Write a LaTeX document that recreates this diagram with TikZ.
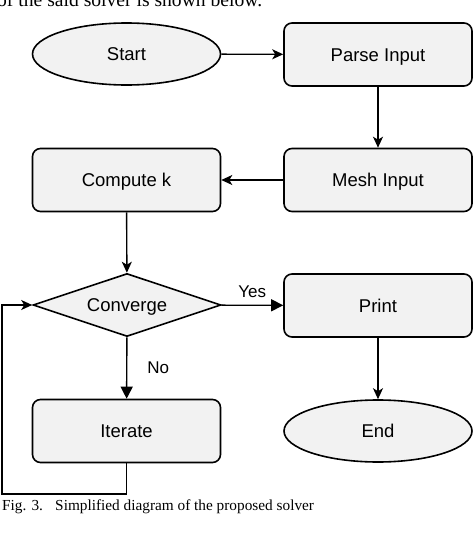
\documentclass[tikz,border=0pt]{standalone}
\usepackage{fontspec}
\setmainfont{Liberation Sans}
\newfontfamily\capfont{Liberation Serif}
\usetikzlibrary{shapes.geometric,arrows.meta}
\definecolor{boxfill}{HTML}{F2F2F2}
\tikzset{
  base/.style={draw=black, line width=1.6pt, fill=boxfill, font=\fontsize{18.5}{20}\selectfont, inner sep=0pt, text height=13.3pt, text depth=0pt},
  procbox/.style={base, rectangle, rounded corners=8pt, minimum width=188pt, minimum height=63pt},
  termbox/.style={base, ellipse, minimum width=188pt, minimum height=62pt},
  decbox/.style={base, diamond, shape aspect=3, minimum width=188pt, minimum height=63pt},
  conn/.style={line width=1.4pt, -{Stealth[length=11pt,width=10pt,inset=3pt]}},
  bconn/.style={line width=1.4pt, -{Triangle[length=12pt,width=12pt]}},
  lbl/.style={font=\fontsize{17}{19}\selectfont, inner sep=0pt},
  captxt/.style={font=\capfont\fontsize{15.3}{17}\selectfont, inner sep=0pt, anchor=base west}
}
\begin{document}
\begin{tikzpicture}[x=1pt,y=-1pt]
\useasboundingbox (0,0) rectangle (474,538);
\begin{scope}
\clip (0,0) rectangle (474,538);
\node[captxt, font=\capfont\fontsize{19.6}{21}\selectfont] (top) at (-3,6) {of the said solver is shown below.};
\end{scope}
\node[termbox] (start) at (126.5,54) {Start};
\node[procbox] (parse) at (378,54.5) {Parse Input};
\node[procbox] (mesh) at (378,180) {Mesh Input};
\node[procbox] (compute) at (126.5,180) {Compute k};
\node[decbox] (conv) at (127,305) {Converge};
\node[procbox] (print) at (378,305.5) {Print};
\node[procbox] (iter) at (126.5,431) {Iterate};
\node[termbox] (end) at (378,431) {End};
\coordinate (lb) at (126.5,494);
\coordinate (ll) at (2,494);
\coordinate (lt) at (2,305);
\draw[conn] (start) -- (parse);
\draw[conn] (parse) -- (mesh);
\draw[conn] (mesh) -- (compute);
\draw[conn] (compute) -- (conv);
\draw[bconn] (conv) -- node[lbl, above=7pt] (yes) {Yes} (print);
\draw[bconn] (conv) -- node[lbl, right=20pt, pos=0.5] (no) {No} (iter);
\draw[conn] (print) -- (end);
\draw[conn] (iter.south) -- (lb) -- (ll) -- (lt) -- (conv.west);
\node[captxt] (cap) at (2,510) {Fig. 3.\hspace{0.8em}Simplified diagram of the proposed solver};
\end{tikzpicture}
\end{document}
